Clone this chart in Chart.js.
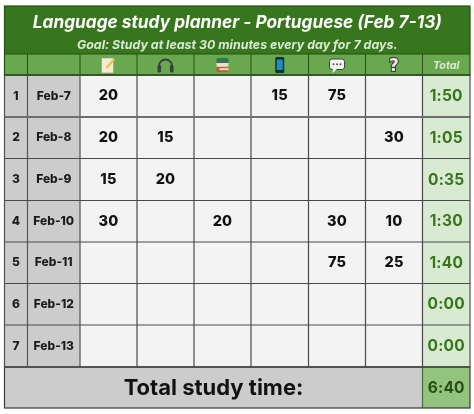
<!DOCTYPE html>
<html><head><meta charset="utf-8">
<style>html,body{margin:0;padding:0;background:#fff}canvas{display:block}</style>
<script src="https://cdn.jsdelivr.net/npm/chart.js@4"></script>
</head><body><canvas id="c" width="474" height="414"></canvas>
<script>
const titleText = "Language study planner - Portuguese (Feb 7-13)";
const goalText = "Goal: Study at least 30 minutes every day for 7 days.";
const dayNumbers = ["1","2","3","4","5","6","7"];
const dates = ["Feb-7","Feb-8","Feb-9","Feb-10","Feb-11","Feb-12","Feb-13"];
const writing   = [20,20,15,30,null,null,null];
const listening = [null,15,20,null,null,null,null];
const reading   = [null,null,null,20,null,null,null];
const phone     = [15,null,null,null,null,null,null];
const speaking  = [75,null,null,30,75,null,null];
const other     = [null,30,null,10,25,null,null];
const totals = ["1:50","1:05","0:35","1:30","1:40","0:00","0:00"];
const totalHeader = "Total";
const grandLabel = "Total study time:";
const grandTotal = "6:40";

const series = [writing, listening, reading, phone, speaking, other];
const FONT = 'Inter, Lato, sans-serif';
const colEdges = [4.5,27.5,80,137,194,251,308.5,365.5,422.5,470];
const rowEdges = [75,117,158.5,200.5,242,283.5,325,367];
const topY = 6, bandY = 54, bottomY = 408;
const LINE = '#4a4a4a';

const points = [];
series.forEach((s, c) => s.forEach((v, r) => {
  if (v !== null) points.push({x:(colEdges[c+2]+colEdges[c+3])/2, y:(rowEdges[r]+rowEdges[r+1])/2, v});
}));

function text(ctx, str, x, y, font, color, spacing) {
  ctx.font = font; ctx.fillStyle = color; ctx.textAlign = 'center'; ctx.textBaseline = 'middle';
  ctx.letterSpacing = (spacing||0) + 'px';
  ctx.fillText(str, x, y);
  ctx.letterSpacing = '0px';
}
function rrect(ctx,x,y,w,h,r,fill,stroke,lw){
  ctx.beginPath(); ctx.roundRect(x,y,w,h,r);
  if(fill){ctx.fillStyle=fill;ctx.fill();}
  if(stroke){ctx.strokeStyle=stroke;ctx.lineWidth=lw||1;ctx.stroke();}
}
const icons = [
 (ctx,x,y)=>{ // notepad
   ctx.fillStyle='#f3ecd0';ctx.fillRect(x-7,y-7,12,15);
   ctx.strokeStyle='#9a9a8a';ctx.lineWidth=.7;ctx.strokeRect(x-7,y-7,12,15);
   ctx.strokeStyle='#e6c04a';ctx.lineWidth=2;ctx.beginPath();ctx.moveTo(x-2,y+3);ctx.lineTo(x+6,y-6);ctx.stroke();
 },
 (ctx,x,y)=>{ // headphones
   ctx.strokeStyle='#3a3f3c';ctx.lineWidth=1.8;ctx.beginPath();ctx.arc(x,y+1,6.5,Math.PI,0);ctx.stroke();
   rrect(ctx,x-8,y,3.6,7.5,1.5,'#3a3f3c');rrect(ctx,x+4.4,y,3.6,7.5,1.5,'#3a3f3c');
 },
 (ctx,x,y)=>{ // books
   rrect(ctx,x-6,y-7,12,4.4,1,'#2f7d4a');rrect(ctx,x-6,y-2.8,12,4.6,1,'#e8e2cc');
   rrect(ctx,x-6,y+2,12,5,1,'#d9502e');ctx.fillStyle='#efe9d8';ctx.fillRect(x-3,y+3.2,9,2);
   ctx.fillStyle='#1e3a28';ctx.fillRect(x-6,y-3,12,.7);
 },
 (ctx,x,y)=>{ // phone
   rrect(ctx,x-4.5,y-8,9,16,1.5,'#14302e');ctx.fillStyle='#1d8fc4';ctx.fillRect(x-3,y-5.5,6,10.5);
 },
 (ctx,x,y)=>{ // speech balloon
   rrect(ctx,x-7.5,y-6,15,10.5,2.5,'#f6f6f0','#39463a',1);
   ctx.fillStyle='#f6f6f0';ctx.beginPath();ctx.moveTo(x-4,y+4);ctx.lineTo(x-4.5,y+8);ctx.lineTo(x,y+4);ctx.fill();
   ctx.fillStyle='#555';[-3.5,0,3.5].forEach(d=>{ctx.beginPath();ctx.arc(x+d,y-.8,1,0,7);ctx.fill();});
 },
 (ctx,x,y)=>{ // question mark
   ctx.font='bold 17px "DejaVu Sans"';ctx.textAlign='center';ctx.textBaseline='middle';
   ctx.lineWidth=2.2;ctx.strokeStyle='#3a3f3c';ctx.strokeText('?',x,y+1.5);
   ctx.fillStyle='#e8e8e0';ctx.fillText('?',x,y+1.5);
 }
];

const tablePlugin = {
  id:'table',
  beforeDatasetsDraw(chart){
    const ctx=chart.ctx, X=v=>chart.scales.x.getPixelForValue(v), Y=v=>chart.scales.y.getPixelForValue(v);
    const rect=(x0,y0,x1,y1,f)=>{ctx.fillStyle=f;ctx.fillRect(X(x0),Y(y0),X(x1)-X(x0),Y(y1)-Y(y0));};
    const L=colEdges[0],R=colEdges[9],hy=rowEdges[0],by=rowEdges[7];
    rect(L,topY,R,bandY,'#38761d');
    rect(L,bandY,R,hy,'#6aa84f');
    rect(L,hy,colEdges[2],by,'#cccccc');
    rect(colEdges[2],hy,colEdges[8],by,'#f3f3f3');
    rect(colEdges[8],hy,R,by,'#d9ead3');
    rect(L,by,colEdges[8],bottomY,'#cccccc');
    rect(colEdges[8],by,R,bottomY,'#93c47d');
    const line=(x0,y0,x1,y1,c,w)=>{ctx.strokeStyle=c;ctx.lineWidth=w;ctx.beginPath();ctx.moveTo(X(x0),Y(y0));ctx.lineTo(X(x1),Y(y1));ctx.stroke();};
    colEdges.slice(1,9).forEach((e,i)=>{
      line(e,bandY,e,hy,'#274e13',1);
      line(e,hy,e,by,i===0||i===1?'#555':LINE,1.2);
    });
    line(colEdges[8],by,colEdges[8],bottomY,'#4a6a40',1.2);
    rowEdges.forEach((e,i)=>{
      if(i===0) line(L,e,R,e,'#4a7a30',1.6);
      else line(L,e,R,e,i===1?'#6e6e6e':LINE,i===1?1.8:1.2);
    });
    line(L,bandY,R,bandY,'#274e13',1);
    ctx.strokeStyle='#3a3a3a';ctx.lineWidth=1.2;ctx.strokeRect(X(L),Y(by),X(R)-X(L),Y(bottomY)-Y(by));
    ctx.strokeStyle='#4f4f4f';ctx.strokeRect(X(L),Y(hy),X(R)-X(L),Y(by)-Y(hy));
    ctx.strokeStyle='#274e13';ctx.strokeRect(X(L),Y(topY),X(R)-X(L),Y(hy)-Y(topY));
  },
  afterDatasetsDraw(chart){
    const ctx=chart.ctx, X=v=>chart.scales.x.getPixelForValue(v), Y=v=>chart.scales.y.getPixelForValue(v);
    const cx=i=>X((colEdges[i]+colEdges[i+1])/2), cy=i=>Y((rowEdges[i]+rowEdges[i+1])/2);
    const midX=X((colEdges[0]+colEdges[9])/2);
    text(ctx,titleText,midX,Y(22.5),`italic 700 17.25px ${FONT}`,'#ffffff',0);
    text(ctx,goalText,midX,Y(45),`italic 700 12.4px ${FONT}`,'#d9ead3',0);
    series.forEach((s,i)=>icons[i](ctx,cx(i+2),Y(65)));
    text(ctx,totalHeader,cx(8),Y(65.5),`italic 700 10.8px ${FONT}`,'#d9ead3',0);
    dayNumbers.forEach((d,i)=>text(ctx,d,cx(0),cy(i),`800 12px ${FONT}`,'#1c1c1c',0));
    dates.forEach((d,i)=>text(ctx,d,cx(1),cy(i),`800 12px ${FONT}`,'#1c1c1c',0));
    const meta=chart.getDatasetMeta(0);
    meta.data.forEach((el,i)=>text(ctx,String(points[i].v),el.x,el.y,`800 14.5px ${FONT}`,'#111',0.2));
    totals.forEach((t,i)=>text(ctx,t,cx(8),cy(i)+0.5,`700 15.5px ${FONT}`,'#38761d',0.2));
    text(ctx,grandLabel,X((colEdges[0]+colEdges[8])/2),Y(388.5),`700 22px ${FONT}`,'#111',0);
    text(ctx,grandTotal,cx(8),Y(388.5),`700 15.5px ${FONT}`,'#274e13',0.2);
  }
};

new Chart(document.getElementById('c'),{
  type:'scatter',
  data:{datasets:[{label:'Minutes studied',data:points,pointRadius:0,pointHoverRadius:0}]},
  options:{
    responsive:false,animation:false,devicePixelRatio:1,
    layout:{padding:0},
    plugins:{legend:{display:false},tooltip:{enabled:false},title:{display:false}},
    scales:{
      x:{type:'linear',min:0,max:474,display:false},
      y:{type:'linear',min:0,max:414,reverse:true,display:false}
    }
  },
  plugins:[tablePlugin]
});
</script></body></html>
